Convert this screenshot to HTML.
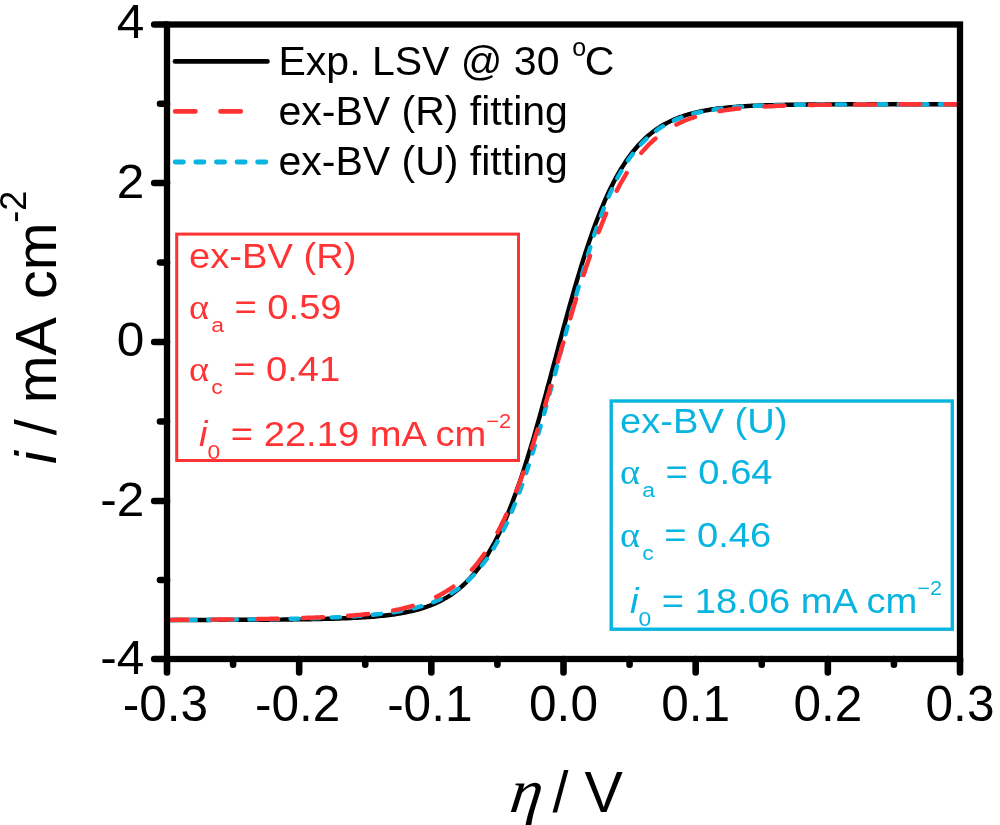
<!DOCTYPE html>
<html lang="en"><head><meta charset="utf-8"><title>LSV fitting plot</title>
<style>html,body{margin:0;padding:0;background:#fff}svg{display:block}text{font-family:"Liberation Sans",Arial,sans-serif}.ser{font-family:"Liberation Serif","Times New Roman",serif}</style></head><body>
<svg width="1000" height="825" viewBox="0 0 1000 825">
<rect width="1000" height="825" fill="#fff"/>
<g fill="none" stroke-linejoin="round" stroke-linecap="round" stroke-width="4.4"><path d="M167.0,620.1 L169.0,620.1 L171.0,620.1 L172.9,620.0 L174.9,620.0 L176.9,620.0 L178.9,620.0 L180.9,620.0 L182.9,620.0 L184.8,620.0 L186.8,620.0 L188.8,620.0 L190.8,620.0 L192.8,620.0 L194.8,620.0 L196.7,620.0 L198.7,620.0 L200.7,620.0 L202.7,620.0 L204.7,620.0 L206.6,620.0 L208.6,620.0 L210.6,620.0 L212.6,619.9 L214.6,619.9 L216.6,619.9 L218.5,619.9 L220.5,619.9 L222.5,619.9 L224.5,619.9 L226.5,619.9 L228.5,619.9 L230.4,619.9 L232.4,619.9 L234.4,619.9 L236.4,619.9 L238.4,619.8 L240.4,619.8 L242.3,619.8 L244.3,619.8 L246.3,619.8 L248.3,619.8 L250.3,619.8 L252.2,619.8 L254.2,619.8 L256.2,619.8 L258.2,619.7 L260.2,619.7 L262.2,619.7 L264.1,619.7 L266.1,619.7 L268.1,619.7 L270.1,619.7 L272.1,619.6 L274.1,619.6 L276.0,619.6 L278.0,619.6 L280.0,619.6 L282.0,619.6 L284.0,619.5 L285.9,619.5 L287.9,619.5 L289.9,619.5 L291.9,619.5 L293.9,619.4 L295.9,619.4 L297.8,619.4 L299.8,619.4 L301.8,619.3 L303.8,619.3 L305.8,619.3 L307.8,619.2 L309.7,619.2 L311.7,619.2 L313.7,619.1 L315.7,619.1 L317.7,619.1 L319.7,619.0 L321.6,619.0 L323.6,618.9 L325.6,618.9 L327.6,618.8 L329.6,618.8 L331.5,618.7 L333.5,618.7 L335.5,618.6 L337.5,618.6 L339.5,618.5 L341.5,618.4 L343.4,618.3 L345.4,618.3 L347.4,618.2 L349.4,618.1 L351.4,618.0 L353.4,617.9 L355.3,617.8 L357.3,617.7 L359.3,617.6 L361.3,617.5 L363.3,617.4 L365.2,617.2 L367.2,617.1 L369.2,617.0 L371.2,616.8 L373.2,616.7 L375.2,616.5 L377.1,616.3 L379.1,616.1 L381.1,615.9 L383.1,615.7 L385.1,615.5 L387.1,615.3 L389.0,615.0 L391.0,614.8 L393.0,614.5 L395.0,614.2 L397.0,613.9 L399.0,613.6 L400.9,613.3 L402.9,612.9 L404.9,612.5 L406.9,612.1 L408.9,611.7 L410.8,611.3 L412.8,610.8 L414.8,610.3 L416.8,609.8 L418.8,609.3 L420.8,608.7 L422.7,608.1 L424.7,607.4 L426.7,606.8 L428.7,606.0 L430.7,605.3 L432.7,604.5 L434.6,603.7 L436.6,602.8 L438.6,601.8 L440.6,600.9 L442.6,599.8 L444.5,598.7 L446.5,597.6 L448.5,596.4 L450.5,595.1 L452.5,593.7 L454.5,592.3 L456.4,590.8 L458.4,589.2 L460.4,587.6 L462.4,585.8 L464.4,584.0 L466.4,582.1 L468.3,580.1 L470.3,578.0 L472.3,575.7 L474.3,573.4 L476.3,571.0 L478.3,568.4 L480.2,565.7 L482.2,562.9 L484.2,560.0 L486.2,556.9 L488.2,553.7 L490.1,550.3 L492.1,546.8 L494.1,543.2 L496.1,539.4 L498.1,535.5 L500.1,531.4 L502.0,527.1 L504.0,522.7 L506.0,518.1 L508.0,513.3 L510.0,508.4 L512.0,503.3 L513.9,498.1 L515.9,492.7 L517.9,487.1 L519.9,481.4 L521.9,475.5 L523.9,469.4 L525.8,463.3 L527.8,456.9 L529.8,450.5 L531.8,443.9 L533.8,437.1 L535.7,430.3 L537.7,423.3 L539.7,416.3 L541.7,409.2 L543.7,401.9 L545.7,394.7 L547.6,387.3 L549.6,380.0 L551.6,372.6 L553.6,365.1 L555.6,357.7 L557.6,350.3 L559.5,342.9 L561.5,335.5 L563.5,328.1 L565.5,320.9 L567.5,313.6 L569.4,306.5 L571.4,299.5 L573.4,292.5 L575.4,285.7 L577.4,278.9 L579.4,272.3 L581.3,265.8 L583.3,259.5 L585.3,253.3 L587.3,247.2 L589.3,241.3 L591.3,235.6 L593.2,230.0 L595.2,224.6 L597.2,219.4 L599.2,214.3 L601.2,209.4 L603.2,204.6 L605.1,200.0 L607.1,195.6 L609.1,191.3 L611.1,187.2 L613.1,183.3 L615.0,179.5 L617.0,175.8 L619.0,172.3 L621.0,169.0 L623.0,165.8 L625.0,162.7 L626.9,159.8 L628.9,157.0 L630.9,154.3 L632.9,151.7 L634.9,149.3 L636.9,147.0 L638.8,144.8 L640.8,142.7 L642.8,140.7 L644.8,138.7 L646.8,136.9 L648.7,135.2 L650.7,133.6 L652.7,132.0 L654.7,130.5 L656.7,129.1 L658.7,127.8 L660.6,126.5 L662.6,125.3 L664.6,124.2 L666.6,123.1 L668.6,122.1 L670.6,121.1 L672.5,120.2 L674.5,119.3 L676.5,118.5 L678.5,117.7 L680.5,117.0 L682.5,116.3 L684.4,115.6 L686.4,115.0 L688.4,114.4 L690.4,113.8 L692.4,113.3 L694.3,112.8 L696.3,112.3 L698.3,111.9 L700.3,111.4 L702.3,111.0 L704.3,110.7 L706.2,110.3 L708.2,110.0 L710.2,109.6 L712.2,109.3 L714.2,109.1 L716.2,108.8 L718.1,108.5 L720.1,108.3 L722.1,108.1 L724.1,107.9 L726.1,107.7 L728.0,107.5 L730.0,107.3 L732.0,107.1 L734.0,106.9 L736.0,106.8 L738.0,106.6 L739.9,106.5 L741.9,106.4 L743.9,106.3 L745.9,106.1 L747.9,106.0 L749.9,105.9 L751.8,105.8 L753.8,105.8 L755.8,105.7 L757.8,105.6 L759.8,105.5 L761.8,105.4 L763.7,105.4 L765.7,105.3 L767.7,105.2 L769.7,105.2 L771.7,105.1 L773.6,105.1 L775.6,105.0 L777.6,105.0 L779.6,104.9 L781.6,104.9 L783.6,104.9 L785.5,104.8 L787.5,104.8 L789.5,104.8 L791.5,104.7 L793.5,104.7 L795.5,104.7 L797.4,104.6 L799.4,104.6 L801.4,104.6 L803.4,104.6 L805.4,104.6 L807.3,104.5 L809.3,104.5 L811.3,104.5 L813.3,104.5 L815.3,104.5 L817.3,104.5 L819.2,104.4 L821.2,104.4 L823.2,104.4 L825.2,104.4 L827.2,104.4 L829.2,104.4 L831.1,104.4 L833.1,104.4 L835.1,104.4 L837.1,104.3 L839.1,104.3 L841.1,104.3 L843.0,104.3 L845.0,104.3 L847.0,104.3 L849.0,104.3 L851.0,104.3 L852.9,104.3 L854.9,104.3 L856.9,104.3 L858.9,104.3 L860.9,104.3 L862.9,104.3 L864.8,104.3 L866.8,104.3 L868.8,104.3 L870.8,104.3 L872.8,104.3 L874.8,104.3 L876.7,104.3 L878.7,104.3 L880.7,104.2 L882.7,104.2 L884.7,104.2 L886.6,104.2 L888.6,104.2 L890.6,104.2 L892.6,104.2 L894.6,104.2 L896.6,104.2 L898.5,104.2 L900.5,104.2 L902.5,104.2 L904.5,104.2 L906.5,104.2 L908.5,104.2 L910.4,104.2 L912.4,104.2 L914.4,104.2 L916.4,104.2 L918.4,104.2 L920.4,104.2 L922.3,104.2 L924.3,104.2 L926.3,104.2 L928.3,104.2 L930.3,104.2 L932.2,104.2 L934.2,104.2 L936.2,104.2 L938.2,104.2 L940.2,104.2 L942.2,104.2 L944.1,104.2 L946.1,104.2 L948.1,104.2 L950.1,104.2 L952.1,104.2 L954.1,104.2 L956.0,104.2 L958.0,104.2 L960.0,104.2" stroke="#000" stroke-linecap="butt"/>
<path d="M167.0,620.0 L169.0,620.0 L171.0,620.0 L172.9,620.0 L174.9,620.0 L176.9,620.0 L178.9,620.0 L180.9,620.0 L182.9,620.0 L184.8,619.9 L186.8,619.9 L188.8,619.9 L190.8,619.9 L192.8,619.9 L194.8,619.9 L196.7,619.9 L198.7,619.9 L200.7,619.9 L202.7,619.8 L204.7,619.8 L206.6,619.8 L208.6,619.8 L210.6,619.8 L212.6,619.8 L214.6,619.8 L216.6,619.8 L218.5,619.7 L220.5,619.7 L222.5,619.7 L224.5,619.7 L226.5,619.7 L228.5,619.7 L230.4,619.6 L232.4,619.6 L234.4,619.6 L236.4,619.6 L238.4,619.6 L240.4,619.5 L242.3,619.5 L244.3,619.5 L246.3,619.5 L248.3,619.5 L250.3,619.4 L252.2,619.4 L254.2,619.4 L256.2,619.4 L258.2,619.3 L260.2,619.3 L262.2,619.3 L264.1,619.3 L266.1,619.2 L268.1,619.2 L270.1,619.2 L272.1,619.1 L274.1,619.1 L276.0,619.1 L278.0,619.0 L280.0,619.0 L282.0,619.0 L284.0,618.9 L285.9,618.9 L287.9,618.8 L289.9,618.8 L291.9,618.7 L293.9,618.7 L295.9,618.7 L297.8,618.6 L299.8,618.6 L301.8,618.5 L303.8,618.5 L305.8,618.4 L307.8,618.3 L309.7,618.3 L311.7,618.2 L313.7,618.2 L315.7,618.1 L317.7,618.0 L319.7,618.0 L321.6,617.9 L323.6,617.8 L325.6,617.7 L327.6,617.7 L329.6,617.6 L331.5,617.5 L333.5,617.4 L335.5,617.3 L337.5,617.2 L339.5,617.1 L341.5,617.0 L343.4,616.9 L345.4,616.8 L347.4,616.7 L349.4,616.6 L351.4,616.4 L353.4,616.3 L355.3,616.2 L357.3,616.0 L359.3,615.9 L361.3,615.7 L363.3,615.6 L365.2,615.4 L367.2,615.3 L369.2,615.1 L371.2,614.9 L373.2,614.7 L375.2,614.5 L377.1,614.3 L379.1,614.1 L381.1,613.8 L383.1,613.6 L385.1,613.4 L387.1,613.1 L389.0,612.8 L391.0,612.6 L393.0,612.3 L395.0,612.0 L397.0,611.6 L399.0,611.3 L400.9,610.9 L402.9,610.6 L404.9,610.2 L406.9,609.8 L408.9,609.4 L410.8,608.9 L412.8,608.5 L414.8,608.0 L416.8,607.5 L418.8,606.9 L420.8,606.4 L422.7,605.8 L424.7,605.2 L426.7,604.5 L428.7,603.9 L430.7,603.1 L432.7,602.4 L434.6,601.6 L436.6,600.8 L438.6,599.9 L440.6,599.0 L442.6,598.1 L444.5,597.1 L446.5,596.0 L448.5,594.9 L450.5,593.7 L452.5,592.5 L454.5,591.2 L456.4,589.9 L458.4,588.5 L460.4,587.0 L462.4,585.5 L464.4,583.8 L466.4,582.1 L468.3,580.3 L470.3,578.4 L472.3,576.5 L474.3,574.4 L476.3,572.2 L478.3,569.9 L480.2,567.5 L482.2,565.0 L484.2,562.4 L486.2,559.7 L488.2,556.8 L490.1,553.8 L492.1,550.7 L494.1,547.5 L496.1,544.0 L498.1,540.5 L500.1,536.8 L502.0,533.0 L504.0,528.9 L506.0,524.8 L508.0,520.5 L510.0,516.0 L512.0,511.3 L513.9,506.5 L515.9,501.5 L517.9,496.4 L519.9,491.0 L521.9,485.6 L523.9,479.9 L525.8,474.1 L527.8,468.1 L529.8,462.0 L531.8,455.7 L533.8,449.3 L535.7,442.8 L537.7,436.1 L539.7,429.3 L541.7,422.4 L543.7,415.3 L545.7,408.2 L547.6,401.0 L549.6,393.7 L551.6,386.4 L553.6,379.0 L555.6,371.6 L557.6,364.1 L559.5,356.7 L561.5,349.2 L563.5,341.8 L565.5,334.3 L567.5,327.0 L569.4,319.6 L571.4,312.4 L573.4,305.2 L575.4,298.1 L577.4,291.1 L579.4,284.2 L581.3,277.1 L583.3,270.2 L585.3,263.4 L587.3,256.8 L589.3,250.3 L591.3,244.0 L593.2,237.9 L595.2,232.0 L597.2,226.2 L599.2,220.6 L601.2,215.2 L603.2,210.0 L605.1,205.0 L607.1,200.2 L609.1,195.6 L611.1,191.1 L613.1,186.8 L615.0,182.7 L617.0,178.7 L619.0,175.0 L621.0,171.5 L623.0,168.2 L625.0,165.0 L626.9,162.0 L628.9,159.1 L630.9,156.3 L632.9,153.7 L634.9,151.2 L636.9,148.8 L638.8,146.5 L640.8,144.3 L642.8,142.2 L644.8,140.3 L646.8,138.4 L648.7,136.6 L650.7,134.9 L652.7,133.3 L654.7,131.8 L656.7,130.3 L658.7,128.9 L660.6,127.6 L662.6,126.4 L664.6,125.2 L666.6,124.1 L668.6,123.0 L670.6,122.0 L672.5,121.1 L674.5,120.2 L676.5,119.3 L678.5,118.5 L680.5,117.8 L682.5,117.0 L684.4,116.3 L686.4,115.7 L688.4,115.1 L690.4,114.5 L692.4,114.0 L694.3,113.4 L696.3,112.9 L698.3,112.5 L700.3,112.0 L702.3,111.6 L704.3,111.2 L706.2,110.8 L708.2,110.5 L710.2,110.2 L712.2,109.8 L714.2,109.5 L716.2,109.3 L718.1,109.0 L720.1,108.7 L722.1,108.5 L724.1,108.3 L726.1,108.1 L728.0,107.9 L730.0,107.7 L732.0,107.5 L734.0,107.3 L736.0,107.2 L738.0,107.0 L739.9,106.9 L741.9,106.7 L743.9,106.6 L745.9,106.5 L747.9,106.3 L749.9,106.2 L751.8,106.1 L753.8,106.0 L755.8,105.9 L757.8,105.8 L759.8,105.8 L761.8,105.7 L763.7,105.6 L765.7,105.5 L767.7,105.5 L769.7,105.4 L771.7,105.3 L773.6,105.3 L775.6,105.2 L777.6,105.2 L779.6,105.1 L781.6,105.1 L783.6,105.0 L785.5,105.0 L787.5,105.0 L789.5,104.9 L791.5,104.9 L793.5,104.9 L795.5,104.8 L797.4,104.8 L799.4,104.8 L801.4,104.7 L803.4,104.7 L805.4,104.7 L807.3,104.7 L809.3,104.6 L811.3,104.6 L813.3,104.6 L815.3,104.6 L817.3,104.6 L819.2,104.5 L821.2,104.5 L823.2,104.5 L825.2,104.5 L827.2,104.5 L829.2,104.5 L831.1,104.5 L833.1,104.5 L835.1,104.4 L837.1,104.4 L839.1,104.4 L841.1,104.4 L843.0,104.4 L845.0,104.4 L847.0,104.4 L849.0,104.4 L851.0,104.4 L852.9,104.4 L854.9,104.4 L856.9,104.3 L858.9,104.3 L860.9,104.3 L862.9,104.3 L864.8,104.3 L866.8,104.3 L868.8,104.3 L870.8,104.3 L872.8,104.3 L874.8,104.3 L876.7,104.3 L878.7,104.3 L880.7,104.3 L882.7,104.3 L884.7,104.3 L886.6,104.3 L888.6,104.3 L890.6,104.3 L892.6,104.3 L894.6,104.3 L896.6,104.3 L898.5,104.3 L900.5,104.3 L902.5,104.3 L904.5,104.3 L906.5,104.3 L908.5,104.3 L910.4,104.3 L912.4,104.2 L914.4,104.2 L916.4,104.2 L918.4,104.2 L920.4,104.2 L922.3,104.2 L924.3,104.2 L926.3,104.2 L928.3,104.2 L930.3,104.2 L932.2,104.2 L934.2,104.2 L936.2,104.2 L938.2,104.2 L940.2,104.2 L942.2,104.2 L944.1,104.2 L946.1,104.2 L948.1,104.2 L950.1,104.2 L952.1,104.2 L954.1,104.2 L956.0,104.2 L958.0,104.2 L960.0,104.2" stroke="#08b4e0" stroke-dasharray="8.2 12.4"/>
<path d="M167.0,619.9 L169.0,619.9 L171.0,619.9 L172.9,619.9 L174.9,619.9 L176.9,619.8 L178.9,619.8 L180.9,619.8 L182.9,619.8 L184.8,619.8 L186.8,619.8 L188.8,619.8 L190.8,619.8 L192.8,619.7 L194.8,619.7 L196.7,619.7 L198.7,619.7 L200.7,619.7 L202.7,619.7 L204.7,619.7 L206.6,619.6 L208.6,619.6 L210.6,619.6 L212.6,619.6 L214.6,619.6 L216.6,619.6 L218.5,619.5 L220.5,619.5 L222.5,619.5 L224.5,619.5 L226.5,619.5 L228.5,619.4 L230.4,619.4 L232.4,619.4 L234.4,619.4 L236.4,619.3 L238.4,619.3 L240.4,619.3 L242.3,619.3 L244.3,619.2 L246.3,619.2 L248.3,619.2 L250.3,619.2 L252.2,619.1 L254.2,619.1 L256.2,619.1 L258.2,619.0 L260.2,619.0 L262.2,619.0 L264.1,618.9 L266.1,618.9 L268.1,618.9 L270.1,618.8 L272.1,618.8 L274.1,618.7 L276.0,618.7 L278.0,618.7 L280.0,618.6 L282.0,618.6 L284.0,618.5 L285.9,618.5 L287.9,618.4 L289.9,618.4 L291.9,618.3 L293.9,618.3 L295.9,618.2 L297.8,618.2 L299.8,618.1 L301.8,618.0 L303.8,618.0 L305.8,617.9 L307.8,617.8 L309.7,617.8 L311.7,617.7 L313.7,617.6 L315.7,617.5 L317.7,617.5 L319.7,617.4 L321.6,617.3 L323.6,617.2 L325.6,617.1 L327.6,617.0 L329.6,616.9 L331.5,616.8 L333.5,616.7 L335.5,616.6 L337.5,616.5 L339.5,616.3 L341.5,616.2 L343.4,616.1 L345.4,616.0 L347.4,615.8 L349.4,615.7 L351.4,615.5 L353.4,615.4 L355.3,615.2 L357.3,615.0 L359.3,614.9 L361.3,614.7 L363.3,614.5 L365.2,614.3 L367.2,614.1 L369.2,613.9 L371.2,613.6 L373.2,613.4 L375.2,613.2 L377.1,612.9 L379.1,612.6 L381.1,612.4 L383.1,612.1 L385.1,611.8 L387.1,611.5 L389.0,611.1 L391.0,610.8 L393.0,610.4 L395.0,610.1 L397.0,609.7 L399.0,609.3 L400.9,608.8 L402.9,608.4 L404.9,607.9 L406.9,607.4 L408.9,606.9 L410.8,606.4 L412.8,605.8 L414.8,605.2 L416.8,604.6 L418.8,604.0 L420.8,603.3 L422.7,602.6 L424.7,601.9 L426.7,601.1 L428.7,600.3 L430.7,599.5 L432.7,598.6 L434.6,597.7 L436.6,596.7 L438.6,595.7 L440.6,594.6 L442.6,593.5 L444.5,592.4 L446.5,591.2 L448.5,589.9 L450.5,588.6 L452.5,587.2 L454.5,585.7 L456.4,584.2 L458.4,582.6 L460.4,580.9 L462.4,579.2 L464.4,577.4 L466.4,575.5 L468.3,573.5 L470.3,571.4 L472.3,569.2 L474.3,567.0 L476.3,564.6 L478.3,562.2 L480.2,559.6 L482.2,556.9 L484.2,554.1 L486.2,551.2 L488.2,548.2 L490.1,545.1 L492.1,541.8 L494.1,538.4 L496.1,534.9 L498.1,531.2 L500.1,527.4 L502.0,523.5 L504.0,519.5 L506.0,515.3 L508.0,510.9 L510.0,506.4 L512.0,501.8 L513.9,497.0 L515.9,492.1 L517.9,487.1 L519.9,481.9 L521.9,476.5 L523.9,471.1 L525.8,465.5 L527.8,459.8 L529.8,453.9 L531.8,447.9 L533.8,441.9 L535.7,435.7 L537.7,429.4 L539.7,423.0 L541.7,416.5 L543.7,409.9 L545.7,403.3 L547.6,396.6 L549.6,389.8 L551.6,383.0 L553.6,376.2 L555.6,369.3 L557.6,362.4 L559.5,355.5 L561.5,348.6 L563.5,341.8 L565.5,334.9 L567.5,328.1 L569.4,321.3 L571.4,314.6 L573.4,307.9 L575.4,301.4 L577.4,294.9 L579.4,288.5 L581.3,282.1 L583.3,275.9 L585.3,269.8 L587.3,263.8 L589.3,258.0 L591.3,252.2 L593.2,246.6 L595.2,241.1 L597.2,235.8 L599.2,230.6 L601.2,225.5 L603.2,220.6 L605.1,215.8 L607.1,211.2 L609.1,206.7 L611.1,202.4 L613.1,198.2 L615.0,194.1 L617.0,190.2 L619.0,186.4 L621.0,182.8 L623.0,179.3 L625.0,175.9 L626.9,172.7 L628.9,169.6 L630.9,166.6 L632.9,163.7 L634.9,161.0 L636.9,158.3 L638.8,155.8 L640.8,153.4 L642.8,151.1 L644.8,148.9 L646.8,146.8 L648.7,144.7 L650.7,142.8 L652.7,141.0 L654.7,139.2 L656.7,137.5 L658.7,135.9 L660.6,134.4 L662.6,132.9 L664.6,131.5 L666.6,130.2 L668.6,129.0 L670.6,127.8 L672.5,126.6 L674.5,125.5 L676.5,124.5 L678.5,123.5 L680.5,122.6 L682.5,121.7 L684.4,120.8 L686.4,120.0 L688.4,119.2 L690.4,118.5 L692.4,117.8 L694.3,117.1 L696.3,116.5 L698.3,115.9 L700.3,115.4 L702.3,114.8 L704.3,114.3 L706.2,113.8 L708.2,113.3 L710.2,112.9 L712.2,112.5 L714.2,112.1 L716.2,111.7 L718.1,111.3 L720.1,111.0 L722.1,110.7 L724.1,110.4 L726.1,110.1 L728.0,109.8 L730.0,109.5 L732.0,109.3 L734.0,109.0 L736.0,108.8 L738.0,108.6 L739.9,108.4 L741.9,108.2 L743.9,108.0 L745.9,107.8 L747.9,107.7 L749.9,107.5 L751.8,107.3 L753.8,107.2 L755.8,107.1 L757.8,106.9 L759.8,106.8 L761.8,106.7 L763.7,106.6 L765.7,106.5 L767.7,106.4 L769.7,106.3 L771.7,106.2 L773.6,106.1 L775.6,106.0 L777.6,105.9 L779.6,105.8 L781.6,105.8 L783.6,105.7 L785.5,105.6 L787.5,105.6 L789.5,105.5 L791.5,105.5 L793.5,105.4 L795.5,105.3 L797.4,105.3 L799.4,105.2 L801.4,105.2 L803.4,105.2 L805.4,105.1 L807.3,105.1 L809.3,105.0 L811.3,105.0 L813.3,105.0 L815.3,104.9 L817.3,104.9 L819.2,104.9 L821.2,104.9 L823.2,104.8 L825.2,104.8 L827.2,104.8 L829.2,104.8 L831.1,104.7 L833.1,104.7 L835.1,104.7 L837.1,104.7 L839.1,104.6 L841.1,104.6 L843.0,104.6 L845.0,104.6 L847.0,104.6 L849.0,104.6 L851.0,104.6 L852.9,104.5 L854.9,104.5 L856.9,104.5 L858.9,104.5 L860.9,104.5 L862.9,104.5 L864.8,104.5 L866.8,104.5 L868.8,104.4 L870.8,104.4 L872.8,104.4 L874.8,104.4 L876.7,104.4 L878.7,104.4 L880.7,104.4 L882.7,104.4 L884.7,104.4 L886.6,104.4 L888.6,104.4 L890.6,104.4 L892.6,104.4 L894.6,104.4 L896.6,104.3 L898.5,104.3 L900.5,104.3 L902.5,104.3 L904.5,104.3 L906.5,104.3 L908.5,104.3 L910.4,104.3 L912.4,104.3 L914.4,104.3 L916.4,104.3 L918.4,104.3 L920.4,104.3 L922.3,104.3 L924.3,104.3 L926.3,104.3 L928.3,104.3 L930.3,104.3 L932.2,104.3 L934.2,104.3 L936.2,104.3 L938.2,104.3 L940.2,104.3 L942.2,104.3 L944.1,104.3 L946.1,104.3 L948.1,104.3 L950.1,104.3 L952.1,104.3 L954.1,104.3 L956.0,104.3 L958.0,104.3 L960.0,104.3" stroke="#ff3333" stroke-dasharray="20.2 25.1"/></g>
<rect x="167.0" y="24.5" width="793.0" height="634.5" fill="none" stroke="#000" stroke-width="6.3"/>
<path d="M154.2,24.50H167.0M160,103.75H167.0M154.2,183.00H167.0M160,262.50H167.0M154.2,342.00H167.0M160,421.50H167.0M154.2,501.00H167.0M160,580.00H167.0M154.2,659.00H167.0M167.00,659.0V672.4M233.08,659.0V664.8M299.17,659.0V672.4M365.25,659.0V664.8M431.33,659.0V672.4M497.42,659.0V664.8M563.50,659.0V672.4M629.58,659.0V664.8M695.67,659.0V672.4M761.75,659.0V664.8M827.83,659.0V672.4M893.92,659.0V664.8M960.00,659.0V672.4" stroke="#000" stroke-width="6.6" stroke-linecap="round" fill="none"/>
<g font-size="49" fill="#000">
<text transform="translate(144.3,37.7) scale(1.012,1)" text-anchor="end">4</text>
<text transform="translate(144.3,197.5) scale(1.012,1)" text-anchor="end">2</text>
<text transform="translate(144.3,356.0) scale(1.012,1)" text-anchor="end">0</text>
<text transform="translate(144.3,516.0) scale(1.012,1)" text-anchor="end">-2</text>
<text transform="translate(144.3,674.0) scale(1.012,1)" text-anchor="end">-4</text>
<text transform="translate(165.5,720.6) scale(0.985,1)" text-anchor="middle" font-size="50.3">-0.3</text>
<text transform="translate(297.7,720.6) scale(0.985,1)" text-anchor="middle" font-size="50.3">-0.2</text>
<text transform="translate(429.8,720.6) scale(0.985,1)" text-anchor="middle" font-size="50.3">-0.1</text>
<text transform="translate(563.5,720.6) scale(0.985,1)" text-anchor="middle" font-size="50.3">0.0</text>
<text transform="translate(695.7,720.6) scale(0.985,1)" text-anchor="middle" font-size="50.3">0.1</text>
<text transform="translate(827.8,720.6) scale(0.985,1)" text-anchor="middle" font-size="50.3">0.2</text>
<text transform="translate(960.0,720.6) scale(0.985,1)" text-anchor="middle" font-size="50.3">0.3</text>
</g>
<text class="ser" font-style="italic" font-size="62" transform="translate(508.5,812) scale(1.04,1) skewX(-7)">η</text><text font-size="57.5" x="552.5" y="812">/ V</text>
<text font-size="57.5" transform="translate(55.8,464) rotate(-90)"><tspan font-style="italic">i</tspan> / mA<tspan x="165">cm</tspan><tspan font-size="36" dy="-29.5" dx="-0.5">-2</tspan></text>
<g fill="none" stroke-width="4.8" stroke-linecap="round"><path d="M175,61.4H267.4" stroke="#000"/>
<path d="M175.2,111.4H245" stroke="#ff3333" stroke-dasharray="20.2 25.1"/>
<path d="M175.2,162H267.4" stroke="#08b4e0" stroke-dasharray="8.2 12.4"/></g>
<g font-size="41" fill="#000">
<text x="278.5" y="75">Exp. LSV @ 30 <tspan font-size="25" dy="-19.5" dx="1.5">o</tspan><tspan dy="19.5" dx="-1.5">C</tspan></text>
<text x="278.5" y="125.2">ex-BV (R) fitting</text>
<text x="278.5" y="174.8">ex-BV (U) fitting</text></g>
<rect x="176.7" y="234.1" width="341.8" height="226.4" fill="none" stroke="#ff3333" stroke-width="3.0"/>
<g font-size="35" fill="#ff3333">
<text transform="translate(189.0,268.0) scale(1.09,1)" >ex-BV (R)</text>
<text transform="translate(189.0,319.0) scale(1.09,1)" ><tspan class="ser">α</tspan><tspan font-size="21" dy="13" dx="2">a</tspan><tspan dy="-13"> = 0.59</tspan></text>
<text transform="translate(189.0,381.0) scale(1.09,1)" ><tspan class="ser">α</tspan><tspan font-size="21" dy="13" dx="2">c</tspan><tspan dy="-13"> = 0.41</tspan></text>
<text transform="translate(199.0,446.0) scale(1.09,1)" ><tspan font-style="italic">i</tspan><tspan font-size="21" dy="13">0</tspan><tspan dy="-13"> = 22.19 mA cm</tspan><tspan font-size="20" dy="-18" dx="0">−2</tspan></text>
</g>
<rect x="611.2" y="401" width="341.0999999999999" height="228.20000000000005" fill="none" stroke="#08b4e0" stroke-width="3.4"/>
<g font-size="35" fill="#08b4e0">
<text transform="translate(620.0,433.0) scale(1.09,1)" >ex-BV (U)</text>
<text transform="translate(620.0,484.3) scale(1.09,1)" ><tspan class="ser">α</tspan><tspan font-size="21" dy="13" dx="2">a</tspan><tspan dy="-13"> = 0.64</tspan></text>
<text transform="translate(620.0,546.7) scale(1.09,1)" ><tspan class="ser">α</tspan><tspan font-size="21" dy="13" dx="2">c</tspan><tspan dy="-13"> = 0.46</tspan></text>
<text transform="translate(630.0,613.3) scale(1.09,1)" ><tspan font-style="italic">i</tspan><tspan font-size="21" dy="13">0</tspan><tspan dy="-13"> = 18.06 mA cm</tspan><tspan font-size="20" dy="-18" dx="0">−2</tspan></text>
</g>
</svg></body></html>
